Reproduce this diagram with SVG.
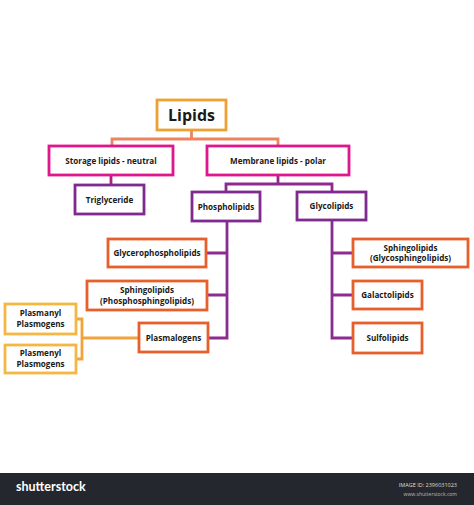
<svg xmlns="http://www.w3.org/2000/svg" width="474" height="505" viewBox="0 0 474 505">
<defs>
<style>
.box{fill:#fff;stroke-width:2.8}
.l0{stroke:#EFA033}
.l1{stroke:#E0168C}
.l2{stroke:#7F2A8F}
.l3{stroke:#E65F2C}
.l4{stroke:#F4B744}
.t{font-family:"Open Sans","Liberation Sans",sans-serif;font-weight:bold;font-size:8.1px;fill:#1a1a1a;text-anchor:middle}
.big{font-size:16px}
.c{fill:none;stroke-width:2.8}
</style>
</defs>
<rect width="474" height="505" fill="#fff"/>
<g id="connectors">
<path class="c" stroke="#EB8560" d="M191.5 130 V139 H112 V146 M191.5 139 H278 V146"/>
<path class="c" stroke="#A8237F" d="M111 175 V185"/>
<path class="c" stroke="#8E2A8E" d="M278 175 V184 H226 V192 M278 184 H332 V192"/>
<path class="c" stroke="#8B2C90" d="M227 221 V338 H208 M227 253 H206 M227 295 H207"/>
<path class="c" stroke="#8B2C90" d="M332 219 V338 H353 M332 253 H353 M332 295 H353"/>
<path class="c" stroke="#F2A43C" d="M76 319 H82 V359 H76 M82 338 H139"/>
</g>
<g id="lipids"><rect class="box l0" x="157" y="100" width="69" height="30"/><text class="t big" x="191.5" y="121">Lipids</text></g>
<g id="storage"><rect class="box l1" x="49" y="146" width="124" height="29"/><text class="t" x="111" y="163.5">Storage lipids - neutral</text></g>
<g id="membrane"><rect class="box l1" x="207" y="146" width="142" height="29"/><text class="t" x="278" y="163.5">Membrane lipids - polar</text></g>
<g id="triglyceride"><rect class="box l2" x="75" y="185" width="69" height="29"/><text class="t" x="109.5" y="202.5">Triglyceride</text></g>
<g id="phospholipids"><rect class="box l2" x="192" y="192" width="68" height="29"/><text class="t" x="226" y="209.5">Phospholipids</text></g>
<g id="glycolipids"><rect class="box l2" x="297" y="192" width="69" height="28"/><text class="t" x="331.5" y="209">Glycolipids</text></g>
<g id="glycerophospholipids"><rect class="box l3" x="108" y="239" width="98" height="28"/><text class="t" x="157" y="256">Glycerophospholipids</text></g>
<g id="sphingo-phospho"><rect class="box l3" x="87" y="281" width="120" height="29"/><text class="t" x="147" y="293">Sphingolipids</text><text class="t" x="147" y="303.5">(Phosphosphingolipids)</text></g>
<g id="plasmalogens"><rect class="box l3" x="139" y="323" width="69" height="29"/><text class="t" x="173.5" y="340.5">Plasmalogens</text></g>
<g id="plasmanyl"><rect class="box l4" x="5" y="304" width="71" height="30"/><text class="t" x="40.5" y="316">Plasmanyl</text><text class="t" x="40.5" y="326.5">Plasmogens</text></g>
<g id="plasmenyl"><rect class="box l4" x="5" y="345" width="71" height="28"/><text class="t" x="40.5" y="356">Plasmenyl</text><text class="t" x="40.5" y="366.5">Plasmogens</text></g>
<g id="sphingo-glyco"><rect class="box l3" x="353" y="239" width="115" height="28"/><text class="t" x="410.5" y="250.5">Sphingolipids</text><text class="t" x="410.5" y="261">(Glycosphingolipids)</text></g>
<g id="galactolipids"><rect class="box l3" x="353" y="281" width="69" height="28"/><text class="t" x="387.5" y="298">Galactolipids</text></g>
<g id="sulfolipids"><rect class="box l3" x="353" y="323" width="69" height="30"/><text class="t" x="387.5" y="341">Sulfolipids</text></g>
<g id="footer">
<rect x="0" y="473" width="474" height="32" fill="#24272E"/>
<text x="16" y="491" font-family="Lato,'Open Sans',sans-serif" font-weight="bold" font-size="12.5" fill="#fff">shutterstock</text>
<text x="457" y="487" font-family="'Open Sans',sans-serif" font-size="5.5" fill="#ddd" text-anchor="end">IMAGE ID: 2396031023</text>
<text x="457" y="495.5" font-family="'Open Sans',sans-serif" font-size="5" fill="#bbb" text-anchor="end">www.shutterstock.com</text>
</g>
</svg>
